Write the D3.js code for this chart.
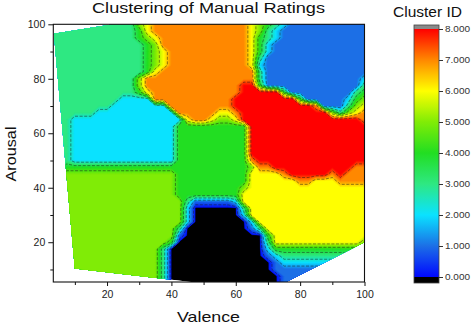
<!DOCTYPE html>
<html><head><meta charset="utf-8">
<script src="https://cdn.jsdelivr.net/npm/d3@7"></script>
<style>body{margin:0;background:#fff}svg{display:block}text{font-family:Arial,"Liberation Sans",sans-serif}</style>
</head><body><svg id="c" width="474" height="323"></svg>
<script>
// ---- data ----
const titleText = "Clustering of Manual Ratings";
const xTitle = "Valence", yTitle = "Arousal", cbTitle = "Cluster ID";
// sample positions: valence 0..100 every 2.5 (41 columns), arousal 100..5 every 2.5 (39 rows)
const valenceFirst = 0, valenceLast = 100;
const arousalFirst = 100, arousalLast = 5;
// cluster id per sample, one string per arousal row (top row = arousal 100); spaces only group digits
const clusterRows = [
 "333333333333 56 777777777777 65432 1111111111",
 "333333333333 46 777777777777 6532 11111111111",
 "333333333333 456 77777777777 6432 11111111111",
 "3333333333333 45 77777777777 642 111111111111",
 "3333333333333 456 7777777777 642 111111111111",
 "3333333333333 456 7777777777 63 1111111111111",
 "3333333333333 456 7777777777 62 1111111111111",
 "3333333333333 46 777777777777 3 1111111111111",
 "333333333333 5 77777777777777 3 111111111111 2",
 "333333333333 5 777777777777 88 4 111111111111 3",
 "333333333333 46 77777777777 88888 4 11111111 34",
 "3333333333 2222 7777777777 88888888 4 11111 245",
 "333333333 2222222 77777777 8888888888 7 111 356",
 "3333333 2222222222 77777 66 7 88888888888 53567",
 "3333 22222222222222 6 77 6 55 6 888888888888888 7",
 "3333 2222222222222 444444444 888888888888888",
 "3333 2222222222222 444444444 888888888888888",
 "3333 2222222222222 444444444 888888888888888",
 "3333 2222222222222 444444444 888888888888888",
 "3333 2222222222222 444444444 888888888888888",
 "3333 2222222222222 444444444 7 88888888888888",
 "333 44444444444444444444444 5 77 8888888888 77",
 "444 55555555555555 444444444 6666 7 88888 7 8 777",
 "444 55555555555555 444444444 666666 77 666 7777",
 "444 55555555555555 44444444 5 666666666666666",
 "444 55555555555555 44444444 6666666666666666",
 "444 555555555555555 3 11111 2 6666666666666666",
 "444 555555555555555 2 000000 3 666666666666666",
 "444 555555555555555 2 000000 2 666666666666666",
 "444 555555555555555 2 0000000 2 66666666666666",
 "444 55555555555555 3 00000000 13 6666666666666",
 "444 55555555555555 1 0000000000 4 666666666666",
 "444 5555555555555 4 00000000000 3 66666666666 5",
 "444 555555555555 3 000000000000 2 444444444444",
 "444 555555555555 3 000000000000 12 33333333333",
 "444 555555555555 3 0000000000000 1 22222222222",
 "444 555555555555 3 0000000000000 111111111111",
 "444 555555555555 3 00000000000000 11111111111",
 "444 555555555555 3 00000000000000 11111111111"
];
// outline of the sampled area
const hullValence = [3.5, 22, 100, 100, 75, 49, 10];
const hullArousal = [96.5, 100, 100, 20, 5, 5, 10.4];
const xMajorTicks = [20,40,60,80,100], xMinorTicks = [10,30,50,70,90];
const yMajorTicks = [20,40,60,80,100], yMinorTicks = [10,30,50,70,90];
const levelValues = [0,1,2,3,4,5,6,7,8];
const levelColors = ["#0008ff","#1c6fe6","#0ae2ff","#2ee882","#22de22","#80ec06","#ffff00","#ff8800","#ff0000"];
const cbTicks = [0,1,2,3,4,5,6,7,8];
const contourLineLevels = [0.5,1.5,2.5,3.5,4.5,5.5,6.5,7.5];

// ---- drawing ----
const svg = d3.select("#c");
const L = 53.3, R = 364.5, T = 24.3, B = 282;
const x = d3.scaleLinear().domain([3.3, 100]).range([L, R]);
const y = d3.scaleLinear().domain([5.4, 100]).range([B, T]);
const color = d3.scaleLinear().domain(levelValues).range(levelColors).clamp(true);

const grid = clusterRows.map(s => s.replace(/ /g, "").split("").map(Number));
const nx = 41, ny = grid.length;
const problems = [];
grid.forEach((r, i) => { if (r.length !== nx) problems.push(`row ${i} has ${r.length}`); while (r.length < nx) r.push(r[r.length - 1]); r.length = nx; });
const values = grid.flat();
const gx = d3.scaleLinear().domain([0.5, nx - 0.5]).range([valenceFirst, valenceLast]);
const gy = d3.scaleLinear().domain([0.5, ny - 0.5]).range([arousalFirst, arousalLast]);
const path = d3.geoPath(d3.geoTransform({point(px, py){ this.stream.point(x(gx(px)), y(gy(py))); }}));

const defs = svg.append("defs");
defs.append("clipPath").attr("id", "plotClip").append("rect")
  .attr("x", L).attr("y", T).attr("width", R - L).attr("height", B - T);
const hullPts = hullValence.map((v, i) => [x(v), y(hullArousal[i])].join(",")).join(" ");
defs.append("clipPath").attr("id", "hullClip").append("polygon").attr("points", hullPts);

const plot = svg.append("g").attr("clip-path", "url(#plotClip)")
  .append("g").attr("clip-path", "url(#hullClip)");
plot.append("polygon").attr("points", hullPts).attr("fill", "#000");

const thresholds = d3.range(1, 81).map(k => k / 10);
const contours = d3.contours().size([nx, ny]).thresholds(thresholds)(values);
plot.selectAll("path.band").data(contours).join("path").attr("class", "band")
  .attr("d", path).attr("fill", d => color(d.value)).attr("stroke", d => color(d.value)).attr("stroke-width", 0.3);

const lines = d3.contours().size([nx, ny]).thresholds(contourLineLevels)(values);
plot.selectAll("path.cl").data(lines).join("path").attr("class", "cl")
  .attr("d", path).attr("fill", "none").attr("stroke", "#1a1a1a")
  .attr("stroke-width", 0.7).attr("stroke-dasharray", "3,1.6").attr("opacity", 0.7);

// axes
const axisFont = g => g.selectAll("text").attr("font-size", "10.5px").attr("fill", "#222")
  .attr("font-family", "Arial, 'Liberation Sans', sans-serif");
const xa = svg.append("g").attr("transform", `translate(0,${B})`)
  .call(d3.axisBottom(x).tickValues(xMajorTicks).tickSize(4).tickPadding(5).tickSizeOuter(0));
xa.call(axisFont);
const xm = svg.append("g").attr("transform", `translate(0,${B})`)
  .call(d3.axisBottom(x).tickValues(xMinorTicks).tickSize(3).tickFormat(""));
const ya = svg.append("g").attr("transform", `translate(${L},0)`)
  .call(d3.axisLeft(y).tickValues(yMajorTicks).tickSize(5).tickPadding(3).tickSizeOuter(0));
ya.call(axisFont);
const ym = svg.append("g").attr("transform", `translate(${L},0)`)
  .call(d3.axisLeft(y).tickValues(yMinorTicks).tickSize(3).tickFormat(""));
[xa, xm, ya, ym].forEach(g => { g.select(".domain").remove(); g.selectAll("line").attr("stroke", "#111"); });

svg.append("rect").attr("x", L).attr("y", T).attr("width", R - L).attr("height", B - T)
  .attr("fill", "none").attr("stroke", "#111").attr("stroke-width", 1.1);

// titles
const addText = (tx, ty, size, len, str, rot) => {
  const t = svg.append("text").attr("text-anchor", "middle").attr("font-size", size + "px")
    .attr("fill", "#111").attr("textLength", len).attr("lengthAdjust", "spacingAndGlyphs").text(str);
  if (rot) t.attr("transform", `translate(${tx},${ty}) rotate(-90)`); else t.attr("x", tx).attr("y", ty);
};
addText(208.5, 12.5, 15, 233, titleText);
addText(208.5, 321.5, 14.5, 63, xTitle);
addText(15.5, 154, 14.5, 55, yTitle, true);
addText(427.5, 17, 14, 69, cbTitle);

// colour bar
const cbL = 414, cbW = 25;
const cy = d3.scaleLinear().domain([0, 8]).range([277, 29]);
const grad = defs.append("linearGradient").attr("id", "cbGrad")
  .attr("x1", 0).attr("y1", 1).attr("x2", 0).attr("y2", 0);
d3.range(0, 81).forEach(k => {
  const v = k / 10;
  grad.append("stop").attr("offset", v / 8).attr("stop-color", color(v));
});
svg.append("rect").attr("x", cbL).attr("y", 25).attr("width", cbW).attr("height", cy(8) - 25).attr("fill", "#8a8a8a");
svg.append("rect").attr("x", cbL).attr("y", cy(8)).attr("width", cbW).attr("height", cy(0) - cy(8)).attr("fill", "url(#cbGrad)");
svg.append("rect").attr("x", cbL).attr("y", cy(0)).attr("width", cbW).attr("height", 283 - cy(0)).attr("fill", "#000");
svg.append("rect").attr("x", cbL).attr("y", 25).attr("width", cbW).attr("height", 258)
  .attr("fill", "none").attr("stroke", "#444").attr("stroke-width", 0.8);
const cba = svg.append("g").attr("transform", `translate(${cbL + cbW},0)`)
  .call(d3.axisRight(cy).tickValues(cbTicks).tickFormat(d3.format(".3f")).tickSize(4).tickPadding(2).tickSizeOuter(0));
cba.select(".domain").remove();
cba.selectAll("line").attr("stroke", "#333");
cba.selectAll("text").attr("font-size", "9px").attr("fill", "#333").attr("textLength", 25)
  .attr("lengthAdjust", "spacingAndGlyphs").attr("font-family", "Arial, 'Liberation Sans', sans-serif");
if (problems.length) setTimeout(() => { throw new Error(problems.join("; ")); }, 0);
</script></body></html>
